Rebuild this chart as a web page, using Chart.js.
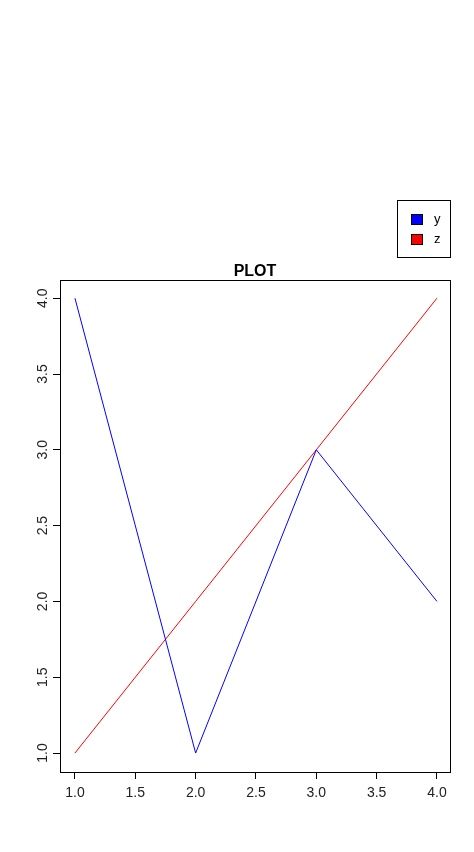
<!DOCTYPE html>
<html><head><meta charset="utf-8">
<script src="https://cdn.jsdelivr.net/npm/chart.js@4/dist/chart.umd.min.js"></script>
<style>html,body{margin:0;padding:0;background:#fff}#wrap{width:474px;height:852px}</style>
</head><body><div id="wrap"><canvas id="c"></canvas></div>
<script>
const xs = [1, 2, 3, 4];
const yVals = [4, 1, 3, 2];
const zVals = [1, 2, 3, 4];
const tickVals = [1, 1.5, 2, 2.5, 3, 3.5, 4];
const title = 'PLOT';
const legendItems = [{label:'y', color:'#0000ff'}, {label:'z', color:'#ff0000'}];

const boxPlugin = {
  id:'box',
  afterDraw(chart){
    const {ctx, chartArea:a} = chart;
    ctx.save();
    ctx.strokeStyle='#000'; ctx.lineWidth=1;
    ctx.strokeRect(Math.round(a.left)+0.5, Math.round(a.top)+0.5, Math.round(a.right-a.left), Math.round(a.bottom-a.top));
    ctx.fillStyle='#000'; ctx.font='bold 16px "Liberation Sans", Arial'; ctx.textAlign='center'; ctx.textBaseline='alphabetic';
    ctx.fillText(title, (a.left+a.right)/2, a.top-4);
    // y tick labels, rotated and centred on ticks
    const ys = chart.scales.y;
    ctx.font='14px "Liberation Sans", Arial'; ctx.fillStyle='#222';
    ctx.textAlign='center'; ctx.textBaseline='middle';
    tickVals.forEach(v=>{
      const py = ys.getPixelForValue(v);
      ctx.save(); ctx.translate(43, py); ctx.rotate(-Math.PI/2);
      ctx.fillText(v.toFixed(1), 0, 0); ctx.restore();
    });
    // legend
    ctx.strokeStyle='#000';
    ctx.strokeRect(397.5, 200.5, 53, 57);
    ctx.font='13px "Liberation Sans", Arial'; ctx.textAlign='left'; ctx.textBaseline='middle';
    legendItems.forEach((it,i)=>{
      const y = 219 + i*20;
      ctx.fillStyle=it.color; ctx.fillRect(411, y-5, 11, 10);
      ctx.strokeRect(411.5, y-4.5, 11, 10);
      ctx.fillStyle='#000'; ctx.fillText(it.label, 434, y);
    });
    ctx.restore();
  }
};

new Chart(document.getElementById('c'), {
  type:'line',
  data:{ datasets:[
    {data: xs.map((x,i)=>({x, y:yVals[i]})), borderColor:'#0000ff', borderWidth:1, pointRadius:0, tension:0},
    {data: xs.map((x,i)=>({x, y:zVals[i]})), borderColor:'#ff0000', borderWidth:1, pointRadius:0, tension:0}
  ]},
  options:{
    responsive:true, maintainAspectRatio:false, animation:false,
    layout:{padding:{top:280, right:24, left:0, bottom:0}},
    plugins:{legend:{display:false}, tooltip:{enabled:false}},
    scales:{
      x:{type:'linear', min:0.876, max:4.108,
        afterBuildTicks(s){ s.ticks = tickVals.map(v=>({value:v})); },
        afterFit(s){ s.height = 80; },
        grid:{drawOnChartArea:false, drawTicks:true, tickLength:7, color:'#000'},
        border:{display:false},
        ticks:{color:'#222', font:{family:'"Liberation Sans", Arial', size:14}, padding:6, maxRotation:0, callback:v=>v.toFixed(1)}
      },
      y:{type:'linear', min:0.875, max:4.12,
        afterBuildTicks(s){ s.ticks = tickVals.map(v=>({value:v})); },
        afterFit(s){ s.width = 60; },
        grid:{drawOnChartArea:false, drawTicks:true, tickLength:7, color:'#000'},
        border:{display:false},
        ticks:{color:'#222', font:{family:'"Liberation Sans", Arial', size:14}, padding:4, callback:()=>''}
      }
    }
  },
  plugins:[boxPlugin]
});
</script></body></html>
